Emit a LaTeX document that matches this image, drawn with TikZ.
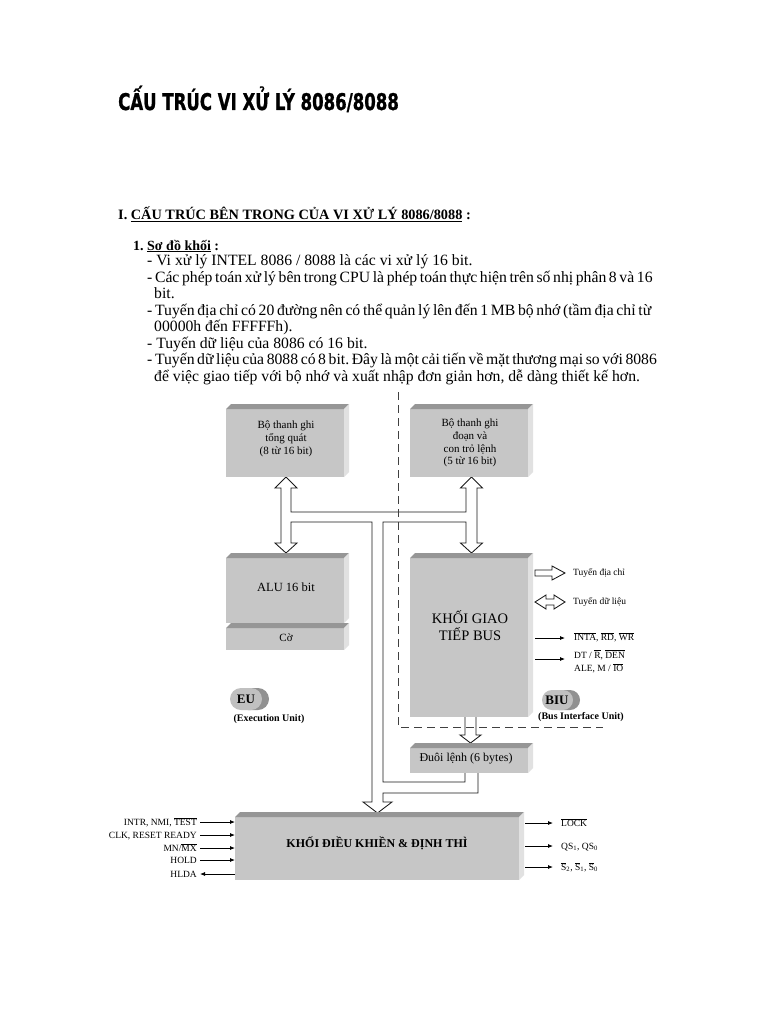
\documentclass[tikz,border=0pt]{standalone}
\usepackage{fontspec}
\setmainfont{Liberation Serif}
\newfontfamily\titlefont[FakeBold=1.2]{DejaVu Sans}
\usepackage{graphicx}
\usetikzlibrary{arrows.meta}
\definecolor{frontc}{RGB}{198,198,198}
\definecolor{topc}{RGB}{150,150,150}
\definecolor{sidec}{RGB}{225,225,225}
\definecolor{pillc}{RGB}{192,192,192}
\definecolor{pillsh}{RGB}{145,145,145}
\newcommand\ovl[1]{$\overline{\mbox{#1}}$}
\newcommand\fs[1]{\fontsize{#1}{#1}\selectfont}
\frenchspacing
% name, x0, y0, x1, y1  (front face, y grows downwards)
\newcommand\threed[5]{%
  \node[frontbox, minimum width={#4-#2}, minimum height={#5-#3}] (#1) at ({(#2+#4)/2},{(#3+#5)/2}) {};
  \fill[topc] (#1.north west) -- ++(5,-5) -- ([xshift=5pt,yshift=5pt]#1.north east) -- (#1.north east) -- cycle;
  \fill[sidec] (#1.north east) -- ++(5,-5) -- ([xshift=5pt,yshift=5pt]#1.south east) -- (#1.south east) -- cycle;
}
\tikzset{
  frontbox/.style={fill=frontc, inner sep=0pt, outer sep=0pt},
  body/.style={anchor=base west, inner sep=0pt, font=\fs{15.7}},
  lbl/.style={inner sep=0pt, align=center},
  sigl/.style={inner sep=0pt, font=\fs{9.5}},
  bus/.style={draw=black!90, line width=0.85pt, line join=miter},
  sig/.style={-{Latex[length=5pt,width=4pt]}, line width=0.8pt},
  dashline/.style={draw=black!75, line width=1pt, dash pattern=on 8pt off 5pt},
}
\begin{document}
\begin{tikzpicture}[x=1pt,y=-1pt]
\fill[white] (0,0) rectangle (768,1024);
\useasboundingbox (0,0) rectangle (768,1024);

% ---------- text ----------
\node[anchor=base west, inner sep=0pt] (title) at (118,110)
  {\scalebox{0.72}[1]{\titlefont\bfseries\fs{23}CẤU TRÚC VI XỬ LÝ 8086/8088}};
\node[anchor=base west, inner sep=0pt] (h1) at (118,220)
  {\fs{14.3}\bfseries I. \underline{CẤU TRÚC BÊN TRONG CỦA VI XỬ LÝ 8086/8088} :};
\node[anchor=base west, inner sep=0pt] (h2) at (133,250)
  {\fs{14}\bfseries 1. \underline{Sơ đồ khối} :};
\node[body] (t1) at (147,265.5) {- Vi xử lý INTEL 8086 / 8088 là các vi xử lý 16 bit.};
\node[body] (t2) at (147,282) {\makebox[504pt][s]{- Các phép toán xử lý bên trong CPU là phép toán thực hiện trên số nhị phân 8 và 16}};
\node[body] (t3) at (154,298.5) {bit.};
\node[body] (t4) at (147,315) {\makebox[504pt][s]{- Tuyến địa chỉ có 20 đường nên có thể quản lý lên đến 1 MB bộ nhớ (tầm địa chỉ từ}};
\node[body] (t5) at (154,331.5) {00000h đến FFFFFh).};
\node[body] (t6) at (147,348) {- Tuyến dữ liệu của 8086 có 16 bit.};
\node[body] (t7) at (147,364.5) {\makebox[504pt][s]{- Tuyến dữ liệu của 8088 có 8 bit. Đây là một cải tiến về mặt thương mại so với 8086}};
\node[body] (t8) at (154,381) {để việc giao tiếp với bộ nhớ và xuất nhập đơn giản hơn, dễ dàng thiết kế hơn.};

% ---------- bus outline ----------
\draw[bus] (478,773) -- (478,793) -- (383,793) -- (383,802) -- (392,802) -- (377.5,813)
  -- (363,802) -- (372,802) -- (372,522) -- (291,522) -- (291,543) -- (297,543)
  -- (286,553) -- (275,543) -- (281,543) -- (281,488) -- (275,488) -- (286,477)
  -- (297,488) -- (291,488) -- (291,512) -- (466,512) -- (466,488) -- (460.5,488)
  -- (471.5,477) -- (482.5,488) -- (477,488) -- (477,543) -- (482.5,543) -- (471.5,553)
  -- (460.5,543) -- (466,543) -- (466,522) -- (383,522) -- (383,782) -- (465,782) -- (465,773);
% BIU -> queue
\draw[bus] (465,717) -- (465,735) -- (460,735) -- (470.5,743) -- (481,735) -- (476,735) -- (476,717);

% ---------- dashed separator ----------
\draw[dashline] (398,392) -- (398,727) -- (603,727);

% ---------- boxes ----------
\threed{gpr}{226}{409}{344}{477}
\threed{seg}{410}{409}{528}{477}
\threed{alu}{226}{558}{344}{623}
\threed{flag}{226}{628}{344}{650}
\threed{biu}{410}{558}{528}{717}
\threed{que}{410}{748}{528}{773}
\threed{ctl}{235}{817}{519}{880}

\node[lbl, font={\fontsize{11}{13}\selectfont}] (tgpr) at (286,439) {Bộ thanh ghi\\tổng quát\\(8 từ 16 bit)};
\node[lbl, font={\fontsize{11}{12.7}\selectfont}] (tseg) at (470,443) {Bộ thanh ghi\\đoạn và\\con trỏ lệnh\\(5 từ 16 bit)};
\node[lbl, font=\fs{12.5}] (talu) at (286,587) {ALU 16 bit};
\node[lbl, font=\fs{11}] (tflag) at (286,638) {Cờ};
\node[lbl, font={\fontsize{14.5}{17}\selectfont}] (tbiu) at (470,626) {KHỐI GIAO\\TIẾP BUS};
\node[lbl, font=\fs{12}] (tque) at (466,759) {Đuôi lệnh (6 bytes)};
\node[lbl, font=\fs{12}\bfseries] (tctl) at (377,843) {KHỐI ĐIỀU KHIỀN \& ĐỊNH THÌ};

% ---------- EU / BIU pills ----------
\fill[pillsh, rounded corners=11pt] (237,688) rectangle (269,710);
\fill[pillc, rounded corners=11pt] (230,688) rectangle (262,710);
\node[lbl, font=\fs{13}\bfseries] (eu) at (246,699.5) {EU};
\node[lbl, font=\fs{10}\bfseries] (eut) at (269,719) {(Execution Unit)};
\fill[pillsh, rounded corners=10pt] (549,690) rectangle (580,710);
\fill[pillc, rounded corners=10pt] (542,690) rectangle (573,710);
\node[lbl, font=\fs{13}\bfseries] (biul) at (557,700) {BIU};
\node[lbl, font=\fs{10}\bfseries] (biut) at (581,717) {(Bus Interface Unit)};

% ---------- BIU side signals ----------
\draw[bus, fill=white] (535,570) -- (552,570) -- (552,566) -- (565,573) -- (552,580) -- (552,576) -- (535,576) -- cycle;
\draw[bus, fill=white] (535,602) -- (546,595) -- (546,599) -- (554,599) -- (554,595) -- (565,602) -- (554,609) -- (554,605) -- (546,605) -- (546,609) -- cycle;
\node[sigl, anchor=west] (addr) at (573,573) {Tuyến địa chỉ};
\node[sigl, anchor=west] (data) at (573,602) {Tuyến dữ liệu};
\draw[sig] (535,638) -- (565,638);
\draw[sig] (535,659) -- (565,659);
\node[sigl, anchor=base west] (s1) at (574,640.5) {\ovl{INTA}, \ovl{RD}, \ovl{WR}};
\node[sigl, anchor=base west] (s2) at (574,658) {DT / \ovl{R}, \ovl{DEN}};
\node[sigl, anchor=base west] (s3) at (574,671.5) {ALE, M / \ovl{IO}};

% ---------- control unit signals ----------
\node[sigl, anchor=base east] (c1) at (197,825.5) {INTR, NMI, \ovl{TEST}};
\node[sigl, anchor=base east] (c2) at (197,838.5) {CLK, RESET READY};
\node[sigl, anchor=base east] (c3) at (197,851.5) {MN/\ovl{MX}};
\node[sigl, anchor=base east] (c4) at (197,863.5) {HOLD};
\node[sigl, anchor=base east] (c5) at (197,877.5) {HLDA};
\draw[sig] (200,822) -- (ctl.west |- 0,822);
\draw[sig] (200,835) -- (ctl.west |- 0,835);
\draw[sig] (200,848) -- (ctl.west |- 0,848);
\draw[sig] (200,860) -- (ctl.west |- 0,860);
\draw[sig] (ctl.west |- 0,874) -- (200,874);
\draw[sig] (525,823) -- (553,823);
\draw[sig] (525,846) -- (553,846);
\draw[sig] (525,867) -- (553,867);
\node[sigl, anchor=base west] (r1) at (561,826.5) {\ovl{LOCK}};
\node[sigl, anchor=base west] (r2) at (561,849.5) {QS\textsubscript{1}, QS\textsubscript{0}};
\node[sigl, anchor=base west] (r3) at (561,870.5) {\ovl{S}\textsubscript{2}, \ovl{S}\textsubscript{1}, \ovl{S}\textsubscript{0}};
\end{tikzpicture}
\end{document}
